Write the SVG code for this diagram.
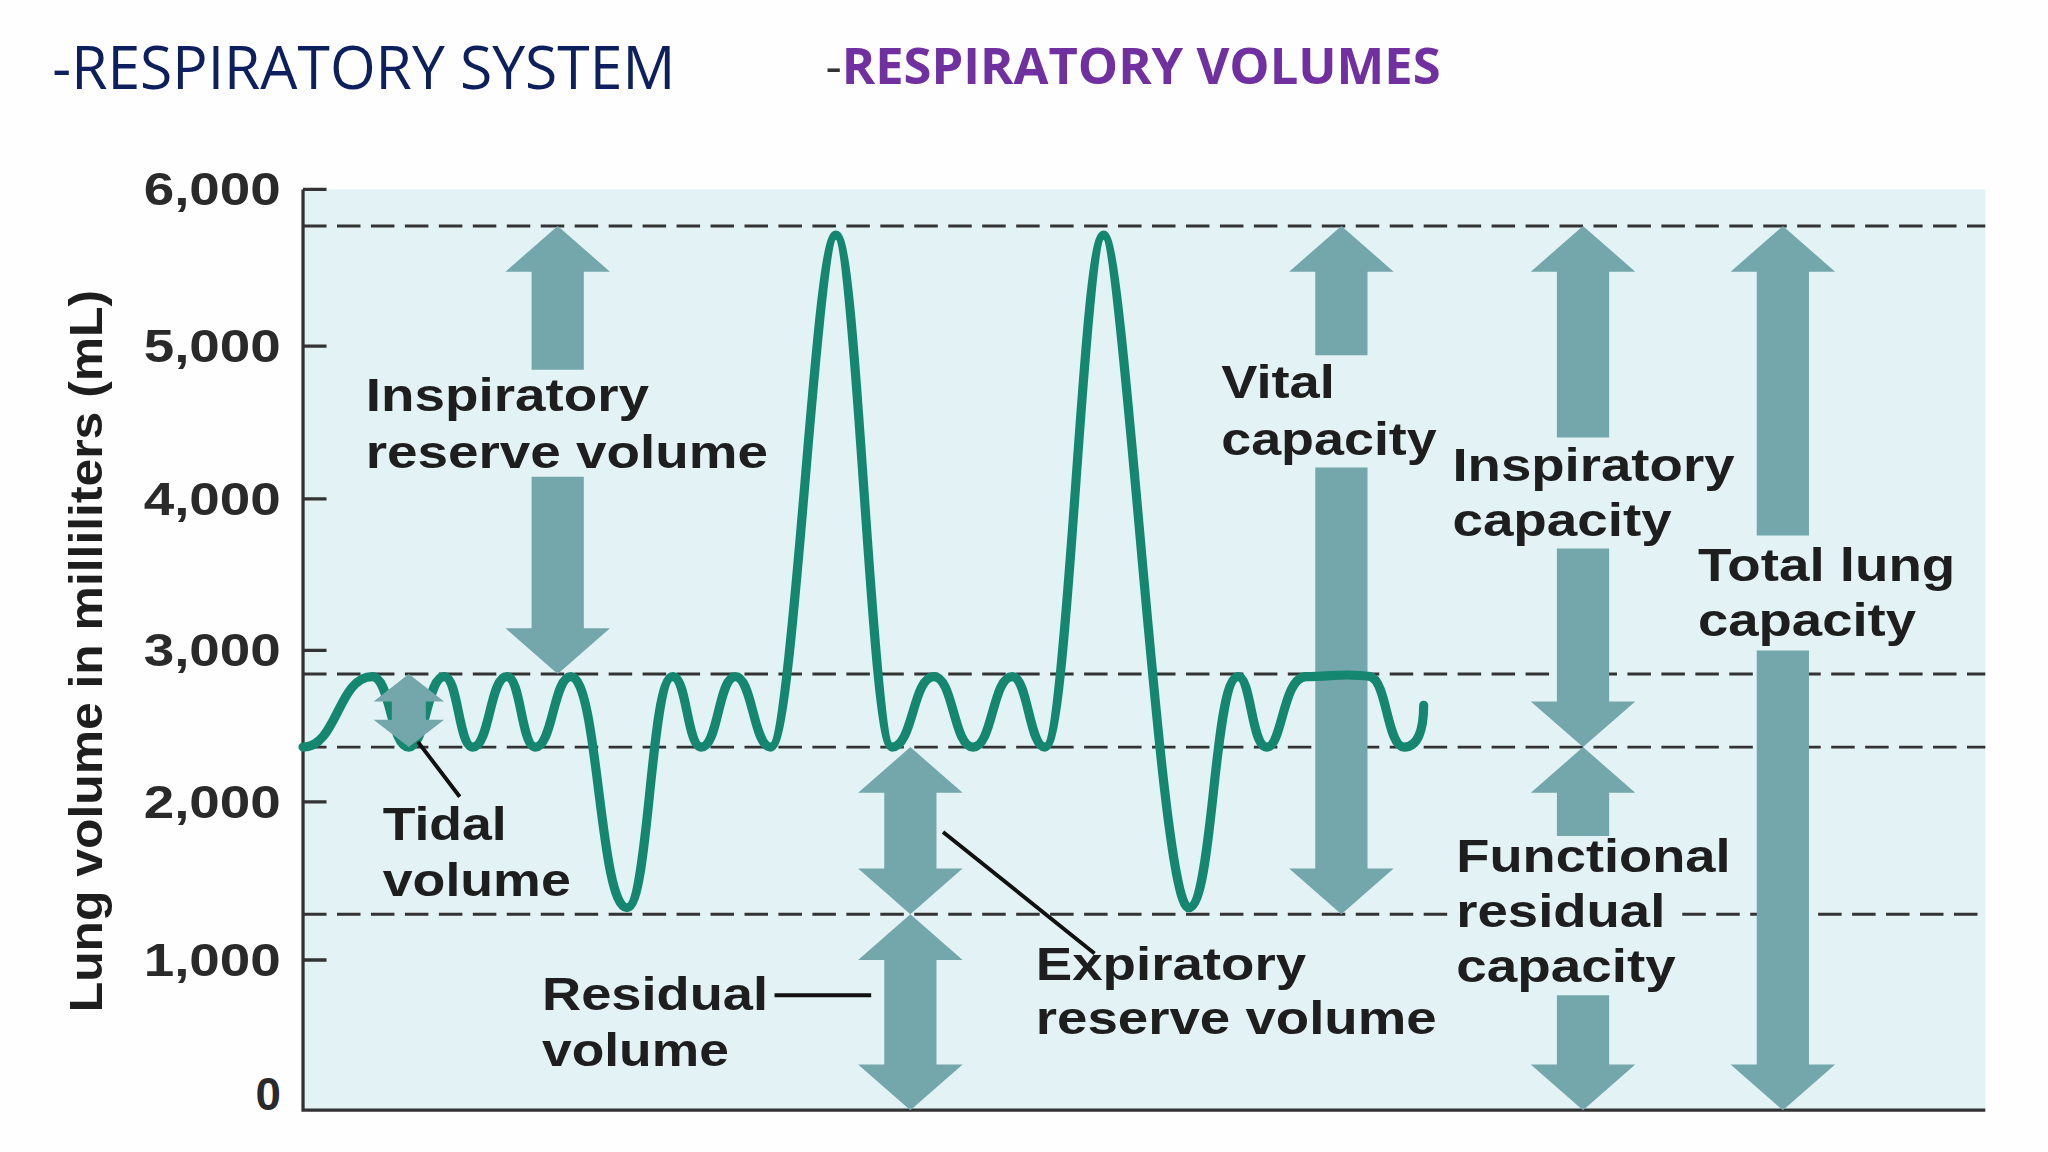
<svg xmlns="http://www.w3.org/2000/svg" width="2048" height="1152" viewBox="0 0 2048 1152">
<style>
.lbl{font-family:"Liberation Sans",Arial,sans-serif;font-weight:bold;font-size:36px;fill:#1e1e1e}
.tick{font-family:"Liberation Sans",Arial,sans-serif;font-weight:bold;font-size:35px;fill:#2a2a2a;text-anchor:end}
.dash{stroke:#333;stroke-width:2.2;stroke-dasharray:18 8;fill:none}
.arr{fill:#74a7ab}
.lead{stroke:#111;stroke-width:3;fill:none}
</style>
<rect width="2048" height="1152" fill="#fefefe"/>
<g transform="scale(1.30612)">
<text x="40" y="68" font-family="Open Sans, Liberation Sans, sans-serif" font-size="46" fill="#0d1f5c" textLength="477" lengthAdjust="spacingAndGlyphs">-RESPIRATORY SYSTEM</text>
<text x="632" y="64" font-family="Open Sans, Liberation Sans, sans-serif" font-size="38" font-weight="bold" fill="#7030a0" textLength="471" lengthAdjust="spacingAndGlyphs"><tspan fill="#333" font-weight="normal">-</tspan>RESPIRATORY VOLUMES</text>
<g id="plot">
<rect x="232" y="145" width="1288" height="705" fill="#e3f2f4"/>
<path d="M232,145V850H1520M232,145H250M232,265H250M232,382H250M232,498H250M232,614H250M232,735H250" stroke="#333" stroke-width="2.5" fill="none"/>
<text class="tick" x="215" y="157" textLength="105" lengthAdjust="spacingAndGlyphs">6,000</text>
<text class="tick" x="215" y="277" textLength="105" lengthAdjust="spacingAndGlyphs">5,000</text>
<text class="tick" x="215" y="394" textLength="105" lengthAdjust="spacingAndGlyphs">4,000</text>
<text class="tick" x="215" y="510" textLength="105" lengthAdjust="spacingAndGlyphs">3,000</text>
<text class="tick" x="215" y="626" textLength="105" lengthAdjust="spacingAndGlyphs">2,000</text>
<text class="tick" x="215" y="747" textLength="105" lengthAdjust="spacingAndGlyphs">1,000</text>
<text class="tick" x="215" y="850">0</text>
<text class="lbl" transform="translate(78,775) rotate(-90)" font-size="35" textLength="553" lengthAdjust="spacingAndGlyphs">Lung volume in milliliters (mL)</text>
<path class="dash" d="M232,173H1520M232,516H1520M232,572H1520M232,700H1108M1288,700H1520"/>
</g>
<g id="arrows">
<polygon class="arr" points="427,173 467,208 447,208 447,283 407,283 407,208 387,208"/>
<polygon class="arr" points="407,365 447,365 447,481 467,481 427,516 387,481 407,481"/>
<polygon class="arr" points="697,572 737,607 717,607 717,665 737,665 697,700 657,665 677,665 677,607 657,607"/>
<polygon class="arr" points="697,700 737,735 717,735 717,815 737,815 697,850 657,815 677,815 677,735 657,735"/>
<polygon class="arr" points="1027,173 1067,208 1047,208 1047,272 1007,272 1007,208 987,208"/>
<polygon class="arr" points="1007,358 1047,358 1047,665 1067,665 1027,700 987,665 1007,665"/>
<polygon class="arr" points="1212,173 1252,208 1232,208 1232,335 1192,335 1192,208 1172,208"/>
<polygon class="arr" points="1192,420 1232,420 1232,537 1252,537 1212,572 1172,537 1192,537"/>
<polygon class="arr" points="1212,572 1252,607 1232,607 1232,640 1192,640 1192,607 1172,607"/>
<polygon class="arr" points="1192,762 1232,762 1232,815 1252,815 1212,850 1172,815 1192,815"/>
<polygon class="arr" points="1365,173 1405,208 1385,208 1385,410 1345,410 1345,208 1325,208"/>
<polygon class="arr" points="1345,498 1385,498 1385,815 1405,815 1365,850 1325,815 1345,815"/>
</g>
<g id="curve">
<path d="M232,572 C258,572 259,518 285,518 C299,518 299,572 313,572 C326,572 327,518 340,518 C351,518 351,572 362,572 C375,572 375,518 388,518 C399,518 399,572 410,572 C423,572 424,518 437,518 C458,518 459,695 480,695 C497,695 498,518 515,518 C526,518 526,572 537,572 C550,572 550,518 563,518 C576,518 577,572 590,572 C608,572 624,180 640,180 C656,180 667,572 683,572 C699,572 699,518 715,518 C730,518 730,572 745,572 C760,572 760,518 775,518 C787,518 788,572 800,572 C818,572 829,180 845,180 C861,180 888,695 910,695 C929,695 929,518 948,518 C958,518 958,572 970,572 C982,572 982,518 1000,518 C1020,518 1030,515 1049,518 C1062,521 1062,572 1075,572 C1085,572 1090,560 1090,540" stroke="#15866f" stroke-width="7" fill="none" stroke-linecap="round"/>
</g>
<g id="tidal-arrow">
<polygon class="arr" points="313,516 340,537 326,537 326,551 340,551 313,572 286,551 300,551 300,537 286,537"/>
</g>
<g id="connectors">
<path class="lead" d="M320,568L352,610M722,637L838,730M593,762H667"/>
</g>
<g id="labels">
<text class="lbl" x="280" y="315" textLength="217" lengthAdjust="spacingAndGlyphs">Inspiratory</text>
<text class="lbl" x="280" y="358" textLength="308" lengthAdjust="spacingAndGlyphs">reserve volume</text>
<text class="lbl" x="293" y="643" textLength="95" lengthAdjust="spacingAndGlyphs">Tidal</text>
<text class="lbl" x="293" y="686" textLength="144" lengthAdjust="spacingAndGlyphs">volume</text>
<text class="lbl" x="415" y="773" textLength="173" lengthAdjust="spacingAndGlyphs">Residual</text>
<text class="lbl" x="415" y="816" textLength="143" lengthAdjust="spacingAndGlyphs">volume</text>
<text class="lbl" x="793" y="750" textLength="207" lengthAdjust="spacingAndGlyphs">Expiratory</text>
<text class="lbl" x="793" y="792" textLength="307" lengthAdjust="spacingAndGlyphs">reserve volume</text>
<text class="lbl" x="935" y="305" textLength="87" lengthAdjust="spacingAndGlyphs">Vital</text>
<text class="lbl" x="935" y="348" textLength="165" lengthAdjust="spacingAndGlyphs">capacity</text>
<text class="lbl" x="1112" y="368" textLength="216" lengthAdjust="spacingAndGlyphs">Inspiratory</text>
<text class="lbl" x="1112" y="410" textLength="168" lengthAdjust="spacingAndGlyphs">capacity</text>
<text class="lbl" x="1300" y="445" textLength="197" lengthAdjust="spacingAndGlyphs">Total lung</text>
<text class="lbl" x="1300" y="487" textLength="167" lengthAdjust="spacingAndGlyphs">capacity</text>
<text class="lbl" x="1115" y="668" textLength="210" lengthAdjust="spacingAndGlyphs">Functional</text>
<text class="lbl" x="1115" y="710" textLength="160" lengthAdjust="spacingAndGlyphs">residual</text>
<text class="lbl" x="1115" y="752" textLength="168" lengthAdjust="spacingAndGlyphs">capacity</text>
</g>
</g>
</svg>
